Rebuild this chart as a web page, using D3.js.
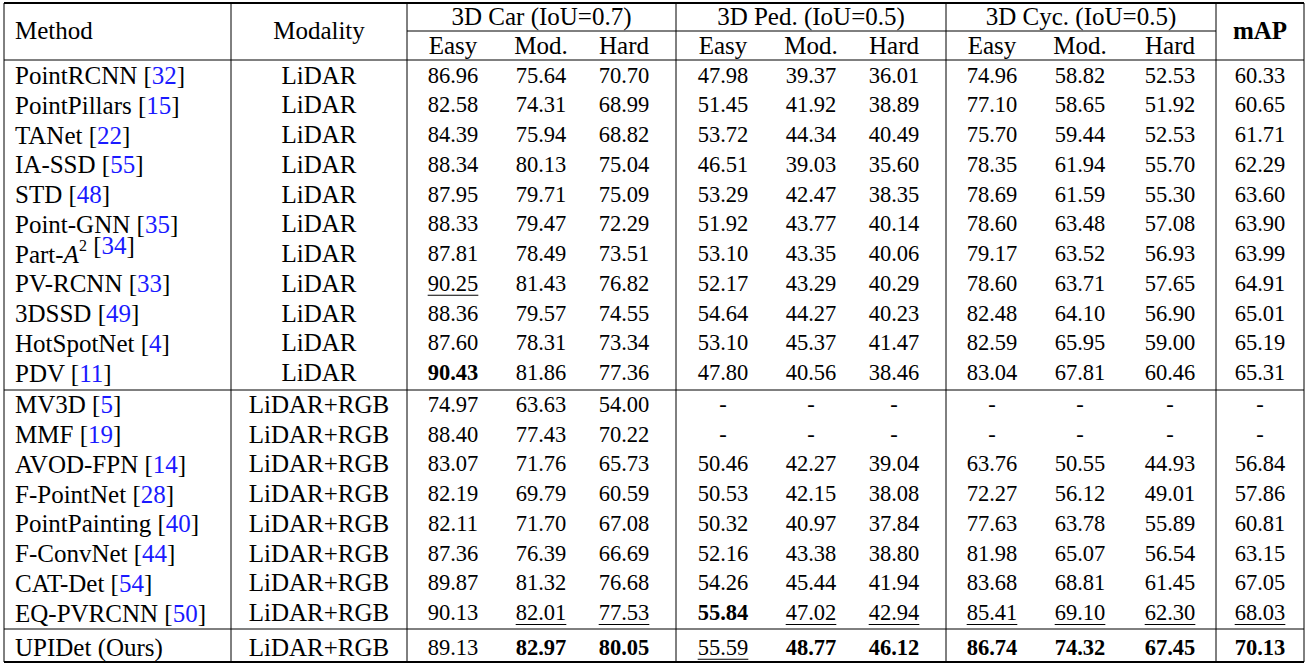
<!DOCTYPE html>
<html><head><meta charset="utf-8">
<script src="https://cdn.jsdelivr.net/npm/d3@7"></script>
<style>body{margin:0;background:#fff}text{font-family:"Liberation Serif","DejaVu Serif",serif;font-size:25px;fill:#000}text.num{font-size:22.5px}</style>
</head><body>
<svg id="t" width="1308" height="665"></svg>
<script>
const methods = ["PointRCNN","PointPillars","TANet","IA-SSD","STD","Point-GNN","Part-A2","PV-RCNN","3DSSD","HotSpotNet","PDV",
  "MV3D","MMF","AVOD-FPN","F-PointNet","PointPainting","F-ConvNet","CAT-Det","EQ-PVRCNN","UPIDet (Ours)"];
const refs = [32,15,22,55,48,35,34,33,49,4,11,5,19,14,28,40,44,54,50,null];
const modality = ["LiDAR","LiDAR","LiDAR","LiDAR","LiDAR","LiDAR","LiDAR","LiDAR","LiDAR","LiDAR","LiDAR",
  "LiDAR+RGB","LiDAR+RGB","LiDAR+RGB","LiDAR+RGB","LiDAR+RGB","LiDAR+RGB","LiDAR+RGB","LiDAR+RGB","LiDAR+RGB"];
const groups = ["3D Car (IoU=0.7)","3D Ped. (IoU=0.5)","3D Cyc. (IoU=0.5)"];
const levels = ["Easy","Mod.","Hard"];
const values = [
 [86.96,75.64,70.70,47.98,39.37,36.01,74.96,58.82,52.53,60.33],
 [82.58,74.31,68.99,51.45,41.92,38.89,77.10,58.65,51.92,60.65],
 [84.39,75.94,68.82,53.72,44.34,40.49,75.70,59.44,52.53,61.71],
 [88.34,80.13,75.04,46.51,39.03,35.60,78.35,61.94,55.70,62.29],
 [87.95,79.71,75.09,53.29,42.47,38.35,78.69,61.59,55.30,63.60],
 [88.33,79.47,72.29,51.92,43.77,40.14,78.60,63.48,57.08,63.90],
 [87.81,78.49,73.51,53.10,43.35,40.06,79.17,63.52,56.93,63.99],
 [90.25,81.43,76.82,52.17,43.29,40.29,78.60,63.71,57.65,64.91],
 [88.36,79.57,74.55,54.64,44.27,40.23,82.48,64.10,56.90,65.01],
 [87.60,78.31,73.34,53.10,45.37,41.47,82.59,65.95,59.00,65.19],
 [90.43,81.86,77.36,47.80,40.56,38.46,83.04,67.81,60.46,65.31],
 [74.97,63.63,54.00,null,null,null,null,null,null,null],
 [88.40,77.43,70.22,null,null,null,null,null,null,null],
 [83.07,71.76,65.73,50.46,42.27,39.04,63.76,50.55,44.93,56.84],
 [82.19,69.79,60.59,50.53,42.15,38.08,72.27,56.12,49.01,57.86],
 [82.11,71.70,67.08,50.32,40.97,37.84,77.63,63.78,55.89,60.81],
 [87.36,76.39,66.69,52.16,43.38,38.80,81.98,65.07,56.54,63.15],
 [89.87,81.32,76.68,54.26,45.44,41.94,83.68,68.81,61.45,67.05],
 [90.13,82.01,77.53,55.84,47.02,42.94,85.41,69.10,62.30,68.03],
 [89.13,82.97,80.05,55.59,48.77,46.12,86.74,74.32,67.45,70.13]
];

const svg = d3.select("#t");
const colX = [453,541,624,723,811,894,992,1080,1170,1260];
const vlines = [4,231,407,676,946,1216,1304];
const y = i => 75 + i*29.75 + (i >= 11 ? 2 : 0) + (i === 19 ? 5 : 0);

function line(x1,y1,x2,y2,w){svg.append("line").attr("x1",x1).attr("y1",y1).attr("x2",x2).attr("y2",y2).attr("stroke","#000").attr("stroke-width",w||1);}
line(4,3,1304,3,2); line(4,662,1304,662,2);
line(4,60,1304,60,1); line(4,390,1304,390,1); line(4,629,1304,629,1);
line(407,31,1216,31,1);
vlines.forEach(x=>line(x,3,x,662,1));

// headers
svg.append("text").attr("x",15).attr("y",30).attr("dominant-baseline","central").text("Method");
svg.append("text").attr("x",319).attr("y",30).attr("text-anchor","middle").attr("dominant-baseline","central").text("Modality");
groups.forEach((g,k)=>svg.append("text").attr("x",(vlines[k+2]+vlines[k+3])/2).attr("y",16).attr("text-anchor","middle").attr("dominant-baseline","central").text(g));
colX.slice(0,9).forEach((x,j)=>svg.append("text").attr("x",x).attr("y",45).attr("text-anchor","middle").attr("dominant-baseline","central").text(levels[j%3]));
svg.append("text").attr("x",1260).attr("y",30).attr("text-anchor","middle").attr("dominant-baseline","central").attr("font-weight","bold").text("mAP");

// best / second per column
const rank = colX.map((_,j)=>{const s=values.map(r=>r[j]).filter(v=>v!=null).sort((a,b)=>b-a);return [s[0],s[1]];});

methods.forEach((m,i)=>{
  const t = svg.append("text").attr("x",15).attr("y",y(i)).attr("dominant-baseline","central");
  if (m === "Part-A2") {
    t.append("tspan").text("Part-");
    t.append("tspan").attr("font-style","italic").text("A");
    t.append("tspan").attr("dy",-9).attr("font-size","16px").text("2");
    t.append("tspan").attr("dy",9).text("");
  } else t.append("tspan").text(m);
  if (refs[i] != null) {
    t.append("tspan").text(" [");
    t.append("tspan").style("fill","#1a1aff").text(refs[i]);
    t.append("tspan").text("]");
  }
  svg.append("text").attr("x",319).attr("y",y(i)).attr("text-anchor","middle").attr("dominant-baseline","central").text(modality[i]);
  values[i].forEach((v,j)=>{
    const tx = svg.append("text").attr("class","num").attr("x",colX[j]).attr("y",y(i)).attr("text-anchor","middle").attr("dominant-baseline","central")
      .text(v==null ? "-" : v.toFixed(2));
    if (v!=null && v===rank[j][0]) tx.attr("font-weight","bold");
    if (v!=null && v===rank[j][1]) {
      const w = tx.node().getComputedTextLength();
      line(colX[j]-w/2, y(i)+12, colX[j]+w/2, y(i)+12, 1.2);
    }
  });
});
</script>
</body></html>
